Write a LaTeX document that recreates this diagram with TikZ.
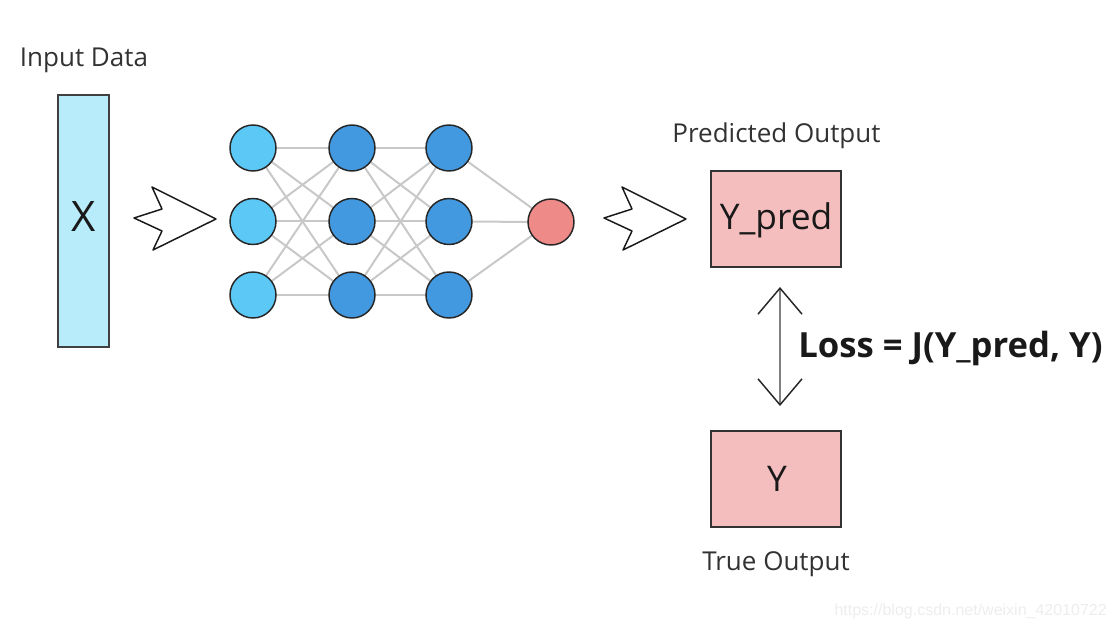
\documentclass[tikz,border=0pt]{standalone}
\usepackage{fontspec}
\setmainfont{Open Sans}
\newfontfamily\wmfont{Liberation Sans}
\usetikzlibrary{arrows.meta,backgrounds}
\definecolor{xfill}{RGB}{185,236,251}
\definecolor{nlight}{RGB}{92,200,245}
\definecolor{ndark}{RGB}{66,153,224}
\definecolor{nout}{RGB}{238,138,135}
\definecolor{boxfill}{RGB}{244,190,190}
\definecolor{edgegray}{RGB}{200,200,200}
\definecolor{txtgray}{RGB}{50,50,50}
\begin{document}
\begin{tikzpicture}[x=0.75pt,y=-0.75pt,
  neuron/.style={circle,minimum size=34.5pt,inner sep=0pt,draw=black!85,line width=1.1pt},
  l1/.style={neuron,fill=nlight},
  l2/.style={neuron,fill=ndark},
  lo/.style={neuron,fill=nout},
  link/.style={draw=edgegray,line width=1.5pt},
  lbl/.style={inner sep=0pt,anchor=base,text=txtgray,font=\fontsize{19.5}{23}\selectfont},
  boxtxt/.style={inner sep=0pt,anchor=base,text=black!90,font=\fontsize{26.5}{30}\selectfont},
  outbox/.style={draw=black!80,line width=1.1pt,fill=boxfill,minimum width=97.5pt,minimum height=72pt,inner sep=0pt},
  fatarrow/.pic={\draw[black!90,line width=1.1pt,line join=round,fill=white]
     (-82,-1)--(-54,-10)--(-64,-32)--(0,0)--(-63,31)--(-54,12)--cycle;}
]
\useasboundingbox (0,0) rectangle (1116,630);

% input
\node[lbl] (inlabel) at (84,66.7) {Input Data};
\node[draw=black!75,line width=1.1pt,fill=xfill,minimum width=38.25pt,minimum height=189pt,inner sep=0pt] (xin) at (83.5,221) {};
\node[inner sep=0pt,anchor=base,text=black!90,font=\fontsize{31.5}{36}\selectfont] (xlab) at (83.5,231.7) {X};

% arrows
\pic at (216,219) {fatarrow};
\pic at (686,219) {fatarrow};

% network
\foreach \i/\y in {1/148,2/221.5,3/295}{
  \node[l1] (a\i) at (253,\y) {};
  \node[l2] (b\i) at (352,\y) {};
  \node[l2] (c\i) at (449,\y) {};
}
\node[lo] (o) at (551,222) {};
\begin{scope}[on background layer]
\foreach \i in {1,2,3}{
  \foreach \j in {1,2,3}{
    \draw[link] (a\i.center) -- (b\j.center);
    \draw[link] (b\i.center) -- (c\j.center);
  }
  \draw[link] (c\i.center) -- (o.center);
}
\end{scope}

% outputs
\node[lbl] (predlabel) at (776.5,142.3) {Predicted Output};
\node[outbox] (pred) at (776,219) {};
\node[boxtxt] (predtxt) at (776,230) {Y\_pred};
\node[outbox] (ytrue) at (776,479) {};
\node[boxtxt] (ytxt) at (777,491.7) {Y};
\node[lbl] (truelabel) at (776,570) {True Output};

% loss
\coordinate (ltop) at (780,287);
\coordinate (lbot) at (780,406);
\draw[draw=black!50,line width=1.9pt,
  arrows={Straight Barb[length=19.5pt,width=33pt,line width=1.1pt,color=black!85]-Straight Barb[length=19.5pt,width=33pt,line width=1.1pt,color=black!85]}]
  (ltop) -- (lbot);
\node[inner sep=0pt,anchor=base west,text=black!90,font=\fontsize{26}{30}\selectfont\bfseries] (loss) at (798,357.3) {Loss = J(Y\_pred, Y)};

% watermark
\node[inner sep=0pt,anchor=base east,text=black!7,font=\wmfont\fontsize{12}{14}\selectfont] (wm) at (1107,615) {https://blog.csdn.net/weixin\_42010722};
\end{tikzpicture}
\end{document}
